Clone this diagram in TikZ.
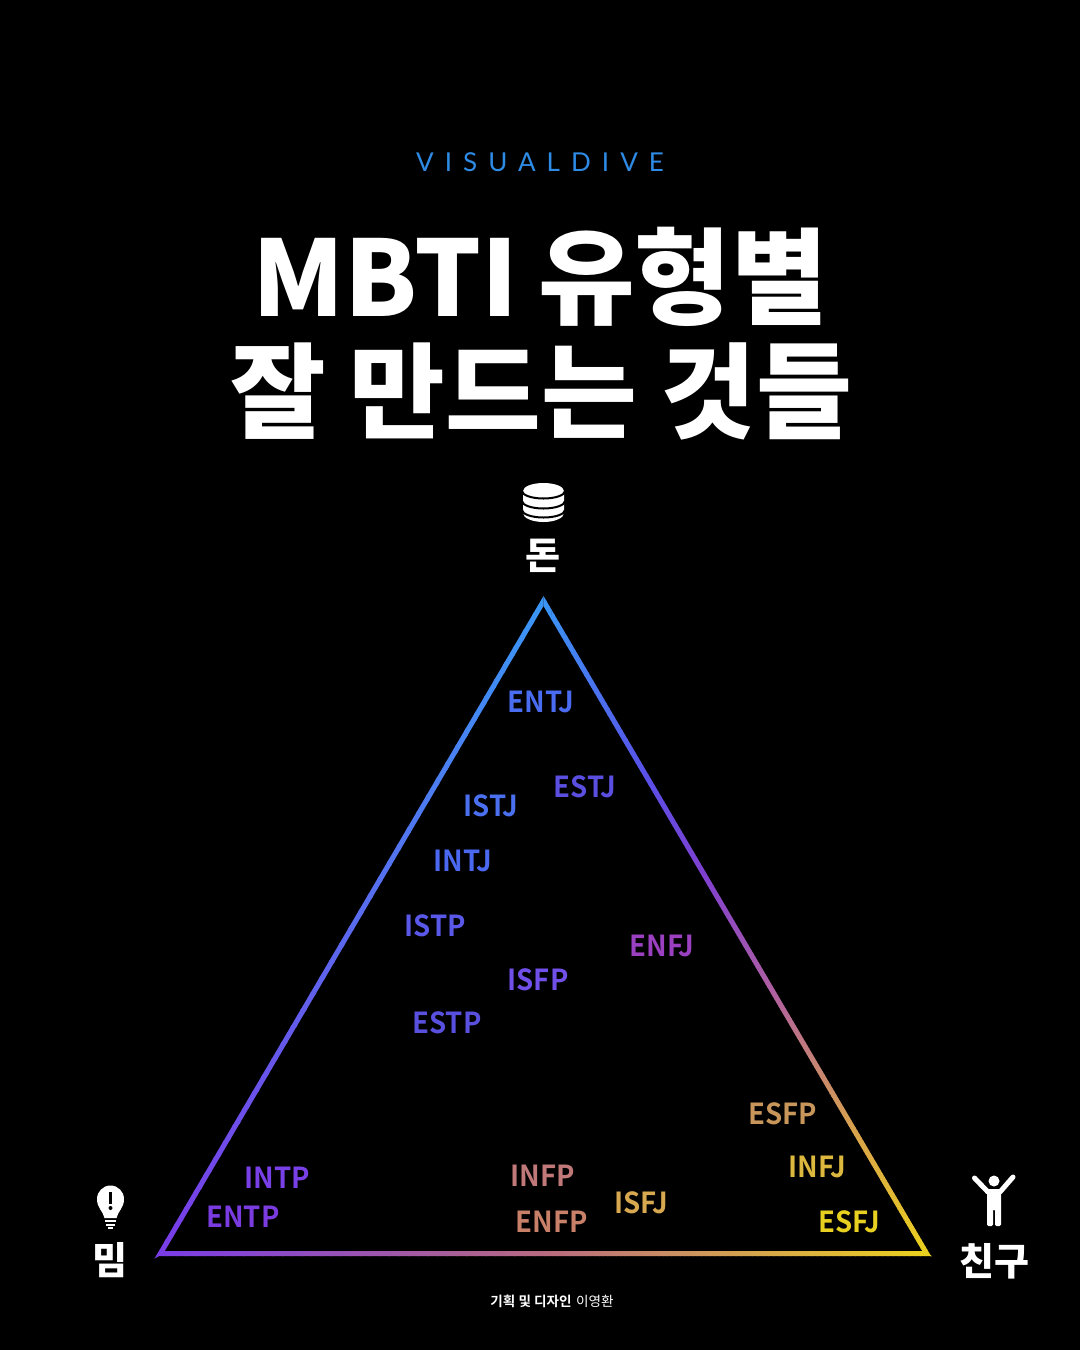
\documentclass[tikz,border=0pt]{standalone}
\usepackage{fontspec}
\usetikzlibrary{calc}
\newfontfamily\krb{Noto Sans CJK KR Bold}
\newfontfamily\krlab[FakeStretch=0.95]{Noto Sans CJK KR Bold}
\newfontfamily\krk{Noto Sans CJK KR Black}
\newfontfamily\krr{Noto Sans CJK KR}
\newfontfamily\brandf[LetterSpace=42.5]{Lato}
\definecolor{gBlue}{HTML}{3A96F5}
\definecolor{gViolet}{HTML}{7A3CE6}
\definecolor{gYellow}{HTML}{ECD21E}
\definecolor{rA}{HTML}{5A50E8}
\definecolor{rB}{HTML}{8040D0}
\definecolor{rC}{HTML}{B060A0}
\definecolor{rD}{HTML}{D8A050}
\definecolor{bA}{HTML}{B86A80}
\definecolor{bB}{HTML}{D09A58}
\definecolor{brandc}{HTML}{2E8CE6}
\newcommand{\bandseg}[8]{%
 % #1 outerA #2 innerA #3 outerB #4 innerB #5 colA #6 colB #7 fracStart #8 fracEnd
 \foreach \k in {1,...,40}{%
  \pgfmathsetmacro{\ta}{#7+(#8-#7)*(\k-1)/40}%
  \pgfmathsetmacro{\tb}{#7+(#8-#7)*(\k/40+0.004)}%
  \pgfmathtruncatemacro{\pc}{100*(\k-0.5)/40}%
  \fill[#6!\pc!#5] ($(#1)!\ta!(#3)$) -- ($(#1)!\tb!(#3)$) -- ($(#2)!\tb!(#4)$) -- ($(#2)!\ta!(#4)$) -- cycle;
 }}
\tikzset{
 lab/.style={anchor=base,inner sep=0pt,font=\krlab\fontsize{29}{29}\selectfont},
 ttl/.style={anchor=base,inner sep=0pt,text=white,font=\krk\fontsize{104}{104}\selectfont},
 corner/.style={anchor=base,inner sep=0pt,text=white,font=\krk\fontsize{38}{38}\selectfont},
}
\begin{document}
\begin{tikzpicture}[x=1pt,y=-1pt]
\useasboundingbox (0,0) rectangle (1080,1350);
\fill[black] (0,0) rectangle (1080,1350);
\node[anchor=base,inner sep=0pt,text=brandc,font=\brandf\fontsize{26}{26}\selectfont] (brand) at (540,171) {VISUALDIVE};
\node[ttl,font=\krk\fontsize{105}{105}\selectfont] (t1) at (540.5,316) {MBTI\hspace{-4pt} 유형별};
\node[ttl] (t2) at (541,430) {잘 만드는 것들};
% triangle
\coordinate (ot) at (543.5,596);
\coordinate (ol) at (156,1256);
\coordinate (or) at (931,1256);
\coordinate (it) at (543.5,606);
\coordinate (il) at (164.8,1251);
\coordinate (ir) at (922.2,1251);
\bandseg{ot}{it}{ol}{il}{gBlue}{gViolet}{0}{1}
\bandseg{ot}{it}{or}{ir}{gBlue}{rA}{0}{0.27}
\bandseg{ot}{it}{or}{ir}{rA}{rB}{0.27}{0.42}
\bandseg{ot}{it}{or}{ir}{rB}{rC}{0.42}{0.60}
\bandseg{ot}{it}{or}{ir}{rC}{rD}{0.60}{0.80}
\bandseg{ot}{it}{or}{ir}{rD}{gYellow}{0.80}{1}
\bandseg{ol}{il}{or}{ir}{gViolet}{bA}{0}{0.5}
\bandseg{ol}{il}{or}{ir}{bA}{bB}{0.5}{0.72}
\bandseg{ol}{il}{or}{ir}{bB}{gYellow}{0.72}{1}
% labels
\node[lab,text={rgb,255:red,74;green,108;blue,240}] (entj) at (541,712) {ENTJ};
\node[lab,text={rgb,255:red,90;green,79;blue,224}] (estj) at (585,797) {ESTJ};
\node[lab,text={rgb,255:red,74;green,112;blue,240}] (istj) at (491,816) {ISTJ};
\node[lab,text={rgb,255:red,74;green,104;blue,240}] (intj) at (463,871) {INTJ};
\node[lab,text={rgb,255:red,90;green,88;blue,232}] (istp) at (435,936) {ISTP};
\node[lab,text={rgb,255:red,112;green,80;blue,232}] (isfp) at (538,990) {ISFP};
\node[lab,text={rgb,255:red,90;green,80;blue,224}] (estp) at (447,1033) {ESTP};
\node[lab,text={rgb,255:red,154;green,64;blue,192}] (enfj) at (662,956) {ENFJ};
\node[lab,text={rgb,255:red,200;green,150;blue,90}] (esfp) at (783,1124) {ESFP};
\node[lab,text={rgb,255:red,220;green,184;blue,62}] (infj) at (817,1177) {INFJ};
\node[lab,text={rgb,255:red,232;green,208;blue,32}] (esfj) at (849,1232) {ESFJ};
\node[lab,text={rgb,255:red,216;green,168;blue,80}] (isfj) at (641,1213) {ISFJ};
\node[lab,text={rgb,255:red,192;green,120;blue,120}] (infp) at (543,1186) {INFP};
\node[lab,text={rgb,255:red,200;green,128;blue,104}] (enfp) at (552,1232) {ENFP};
\node[lab,text={rgb,255:red,122;green,64;blue,232}] (intp) at (277,1188) {INTP};
\node[lab,text={rgb,255:red,122;green,60;blue,224}] (entp) at (243,1227) {ENTP};
% corner words
\node[corner] (don) at (543,569) {돈};
\node[corner] (mim) at (110,1274) {밈};
\node[corner] (chingu) at (994,1275) {친구};
\node[anchor=base,inner sep=0pt,text=white,font=\fontsize{13.6}{14}\selectfont] (credit) at (552,1306) {{\krb 기획 및 디자인} {\krr 이영환}};
% database icon
\fill[white] (523,491) arc[x radius=20.5,y radius=8,start angle=180,end angle=360] -- (564,513) arc[x radius=20.5,y radius=9,start angle=0,end angle=180] -- cycle;
\foreach \yy in {491,501,510}{
 \draw[black,line width=2pt] (522,\yy) arc[x radius=21.5,y radius=7.5,start angle=180,end angle=0];
}
% bulb icon
\fill[white] (104.5,1218) .. controls (103,1211) and (97,1208) .. (97,1199) arc[radius=13.5,start angle=180,end angle=360] .. controls (124,1208) and (118,1211) .. (116.5,1218) -- cycle;
\fill[black] (108.8,1192) rectangle (112.2,1204);
\fill[black] (110.5,1208) circle (2);
\fill[white] (105,1220) rectangle (116,1222);
\fill[white] (106,1223.5) rectangle (115,1225.5);
\fill[white] (108,1227) rectangle (113,1229);
% person icon
\fill[white] (994,1181) circle (5.5);
\draw[white,line width=5pt,line cap=round] (974.5,1178) -- (988,1192);
\draw[white,line width=5pt,line cap=round] (1013,1177) -- (1000,1192);
\fill[white,rounded corners=1.5pt] (987,1189) -- (1001,1189) -- (1001,1226) -- (995,1226) -- (995,1209) -- (993,1209) -- (993,1226) -- (987,1226) -- cycle;
\end{tikzpicture}
\end{document}
